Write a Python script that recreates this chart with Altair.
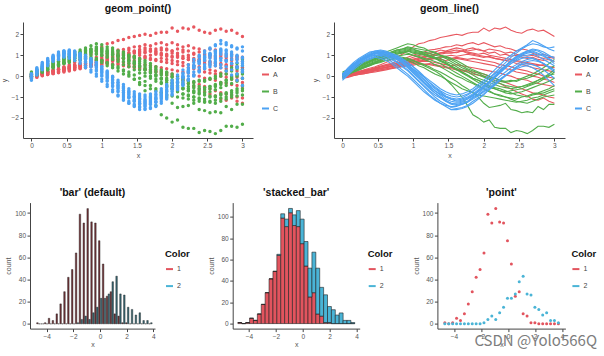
import altair as alt
import pandas as pd

FONT = "Liberation Sans"

# ---------------- top panels data ----------------
X = [0.0, 0.077, 0.154, 0.231, 0.308, 0.385, 0.462, 0.538, 0.615, 0.692,
     0.769, 0.846, 0.923, 1.0, 1.077, 1.154, 1.231, 1.308, 1.385, 1.462,
     1.538, 1.615, 1.692, 1.769, 1.846, 1.923, 2.0, 2.077, 2.154, 2.231,
     2.308, 2.385, 2.462, 2.538, 2.615, 2.692, 2.769, 2.846, 2.923, 3.0]

A_LINES = [
    [0.0, 0.08, 0.15, 0.22, 0.3, 0.38, 0.45, 0.55, 0.65, 0.78, 0.9, 1.05, 1.2, 1.4, 1.55, 1.6, 1.7, 1.75, 1.85, 1.9,
     1.95, 2.0, 1.95, 2.05, 2.1, 2.1, 2.3, 2.15, 2.3, 2.25, 2.35, 2.2, 2.1, 2.05, 2.2, 2.25, 2.15, 2.2, 2.05, 1.9],
    [0.0, 0.05, 0.12, 0.18, 0.25, 0.32, 0.4, 0.48, 0.55, 0.62, 0.7, 0.8, 0.9, 1.0, 1.08, 1.15, 1.25, 1.28, 1.33, 1.4,
     1.42, 1.5, 1.45, 1.55, 1.6, 1.5, 1.6, 1.5, 1.4, 1.45, 1.35, 1.3, 1.2, 1.3, 1.25, 1.1, 1.0, 1.05, 0.95, 0.9],
    [0.05, 0.08, 0.12, 0.2, 0.25, 0.32, 0.4, 0.45, 0.5, 0.58, 0.62, 0.72, 0.8, 0.9, 0.98, 1.05, 1.1, 1.15, 1.25, 1.2,
     1.28, 1.35, 1.3, 1.2, 1.25, 1.3, 1.2, 1.1, 1.15, 1.0, 1.05, 0.95, 1.0, 0.9, 0.85, 0.9, 0.8, 0.75, 0.8, 0.7],
    [-0.05, 0.0, 0.08, 0.12, 0.2, 0.25, 0.3, 0.38, 0.42, 0.48, 0.52, 0.6, 0.68, 0.75, 0.8, 0.88, 0.95, 1.0, 1.05, 1.1,
     1.1, 1.15, 1.2, 1.15, 1.1, 1.05, 1.1, 1.0, 0.95, 0.9, 0.85, 0.8, 0.75, 0.7, 0.65, 0.6, 0.55, 0.5, 0.45, 0.4],
    [0.0, 0.04, 0.08, 0.14, 0.18, 0.22, 0.28, 0.35, 0.4, 0.45, 0.5, 0.55, 0.62, 0.7, 0.75, 0.8, 0.86, 0.84, 0.9, 0.95,
     1.0, 0.95, 1.0, 1.05, 1.0, 0.95, 0.9, 0.95, 0.85, 0.8, 0.75, 0.7, 0.6, 0.55, 0.5, 0.4, 0.35, 0.3, 0.25, 0.2],
    [0.1, 0.12, 0.16, 0.22, 0.25, 0.3, 0.35, 0.38, 0.42, 0.48, 0.52, 0.55, 0.62, 0.66, 0.72, 0.76, 0.8, 0.86, 0.92, 0.9,
     0.85, 0.9, 0.85, 0.8, 0.85, 0.8, 0.75, 0.7, 0.65, 0.55, 0.5, 0.45, 0.35, 0.3, 0.25, 0.15, 0.1, 0.0, -0.05, -0.1],
    [-0.1, -0.06, 0.02, 0.08, 0.12, 0.18, 0.25, 0.3, 0.35, 0.4, 0.45, 0.5, 0.55, 0.6, 0.66, 0.72, 0.78, 0.84, 0.8, 0.75,
     0.8, 0.85, 0.8, 0.75, 0.7, 0.65, 0.6, 0.55, 0.5, 0.4, 0.35, 0.3, 0.2, 0.15, 0.1, 0.0, -0.05, -0.15, -0.2, -0.3],
    [0.0, 0.07, 0.12, 0.18, 0.25, 0.3, 0.36, 0.44, 0.5, 0.55, 0.6, 0.66, 0.72, 0.78, 0.84, 0.92, 0.98, 1.05, 1.1, 1.15,
     1.2, 1.25, 1.2, 1.3, 1.35, 1.25, 1.2, 1.3, 1.25, 1.2, 1.1, 1.15, 1.05, 1.0, 0.95, 1.0, 0.9, 0.85, 0.9, 0.85],
    [0.05, 0.07, 0.1, 0.16, 0.22, 0.26, 0.32, 0.38, 0.44, 0.5, 0.55, 0.6, 0.66, 0.7, 0.68, 0.72, 0.7, 0.65, 0.6, 0.55,
     0.5, 0.55, 0.5, 0.45, 0.4, 0.35, 0.3, 0.25, 0.2, 0.15, 0.05, 0.0, -0.1, -0.15, -0.2, -0.3, -0.35, -0.4, -0.45, -0.5],
    [-0.05, -0.02, 0.03, 0.08, 0.12, 0.16, 0.2, 0.25, 0.3, 0.35, 0.4, 0.45, 0.5, 0.52, 0.58, 0.55, 0.6, 0.55, 0.5, 0.45,
     0.4, 0.35, 0.3, 0.25, 0.2, 0.15, 0.1, 0.0, -0.1, -0.2, -0.3, -0.4, -0.5, -0.6, -0.7, -0.8, -0.85, -0.9, -1.0, -1.05],
    [0.0, 0.02, 0.06, 0.1, 0.15, 0.2, 0.26, 0.3, 0.34, 0.38, 0.42, 0.48, 0.52, 0.58, 0.6, 0.58, 0.55, 0.5, 0.45, 0.4,
     0.35, 0.3, 0.25, 0.2, 0.1, 0.05, 0.0, -0.1, -0.2, -0.35, -0.5, -0.6, -0.75, -0.85, -0.95, -1.1, -1.15, -1.05, -1.2, -1.3],
    [0.08, 0.12, 0.16, 0.22, 0.28, 0.32, 0.38, 0.44, 0.5, 0.56, 0.62, 0.68, 0.75, 0.82, 0.88, 0.95, 1.0, 1.06, 1.12, 1.18,
     1.15, 1.12, 1.2, 1.1, 1.05, 1.0, 0.95, 0.9, 0.85, 0.8, 0.75, 0.8, 0.7, 0.65, 0.6, 0.55, 0.5, 0.55, 0.45, 0.4],
]

B_LINES = [
    [0.0, 0.15, 0.3, 0.4, 0.5, 0.6, 0.7, 0.78, 0.85, 0.9, 0.95, 0.9, 0.85, 0.75, 0.62, 0.5, 0.38, 0.25, 0.08, -0.15,
     -0.4, -0.7, -1.0, -1.4, -1.85, -2.0, -2.2, -2.1, -2.45, -2.5, -2.5, -2.7, -2.6, -2.65, -2.75, -2.6, -2.4, -2.4, -2.45, -2.3],
    [0.05, 0.15, 0.25, 0.35, 0.45, 0.55, 0.62, 0.7, 0.75, 0.8, 0.85, 0.85, 0.8, 0.75, 0.65, 0.55, 0.45, 0.3, 0.2, 0.05,
     -0.1, -0.25, -0.45, -0.6, -0.8, -1.0, -1.3, -1.5, -1.45, -1.4, -1.3, -1.6, -1.65, -1.75, -1.7, -1.75, -1.45, -1.6, -1.35, -1.35],
    [0.1, 0.25, 0.4, 0.55, 0.7, 0.8, 0.9, 1.05, 1.15, 1.25, 1.35, 1.45, 1.55, 1.5, 1.4, 1.35, 1.2, 1.15, 1.0, 0.9,
     0.8, 0.65, 0.5, 0.35, 0.25, 0.15, 0.0, -0.1, -0.2, -0.25, -0.3, -0.25, -0.2, -0.1, 0.0, 0.1, 0.25, 0.4, 0.6, 0.8],
    [0.0, 0.2, 0.35, 0.5, 0.6, 0.7, 0.85, 0.95, 1.05, 1.15, 1.25, 1.3, 1.35, 1.3, 1.2, 1.1, 1.0, 0.9, 0.75, 0.6,
     0.45, 0.3, 0.15, 0.0, -0.15, -0.3, -0.45, -0.55, -0.6, -0.7, -0.75, -0.7, -0.65, -0.6, -0.5, -0.4, -0.3, -0.15, 0.0, 0.2],
    [-0.1, 0.05, 0.2, 0.3, 0.4, 0.5, 0.6, 0.7, 0.85, 0.95, 1.05, 1.1, 1.2, 1.15, 1.1, 1.05, 0.95, 0.85, 0.75, 0.65,
     0.5, 0.35, 0.2, 0.05, -0.1, -0.2, -0.35, -0.5, -0.6, -0.7, -0.8, -0.85, -0.8, -0.75, -0.65, -0.55, -0.45, -0.35, -0.25, -0.1],
    [0.05, 0.2, 0.3, 0.45, 0.55, 0.65, 0.75, 0.85, 0.95, 1.0, 1.1, 1.15, 1.1, 1.0, 0.95, 0.85, 0.8, 0.7, 0.6, 0.45,
     0.3, 0.15, 0.0, -0.15, -0.3, -0.45, -0.6, -0.7, -0.85, -0.95, -1.0, -1.05, -1.1, -1.0, -0.95, -0.85, -0.8, -0.7, -0.6, -0.45],
    [0.15, 0.25, 0.35, 0.5, 0.6, 0.7, 0.8, 0.9, 1.0, 1.1, 1.2, 1.25, 1.3, 1.25, 1.2, 1.15, 1.1, 1.0, 0.95, 0.85,
     0.7, 0.55, 0.4, 0.3, 0.15, 0.05, -0.05, -0.15, -0.3, -0.35, -0.45, -0.5, -0.55, -0.5, -0.45, -0.35, -0.2, -0.1, 0.05, 0.1],
    [0.0, 0.1, 0.25, 0.35, 0.45, 0.55, 0.65, 0.75, 0.85, 0.9, 0.95, 1.0, 1.05, 1.0, 0.9, 0.8, 0.7, 0.55, 0.45, 0.3,
     0.15, 0.0, -0.1, -0.25, -0.35, -0.5, -0.6, -0.75, -0.85, -0.9, -1.0, -1.1, -1.2, -1.25, -1.3, -1.2, -1.1, -1.0, -0.95, -0.9],
    [0.1, 0.2, 0.35, 0.45, 0.55, 0.7, 0.8, 0.9, 1.0, 1.1, 1.15, 1.2, 1.25, 1.2, 1.15, 1.05, 1.0, 0.9, 0.85, 0.7,
     0.6, 0.45, 0.3, 0.2, 0.05, -0.1, -0.2, -0.3, -0.4, -0.5, -0.55, -0.6, -0.55, -0.5, -0.4, -0.3, -0.2, -0.05, 0.1, 0.3],
    [-0.05, 0.1, 0.2, 0.3, 0.45, 0.55, 0.65, 0.8, 0.9, 1.0, 1.05, 1.15, 1.2, 1.1, 1.05, 1.0, 0.9, 0.85, 0.7, 0.6,
     0.45, 0.3, 0.2, 0.05, -0.1, -0.2, -0.3, -0.45, -0.55, -0.6, -0.7, -0.8, -0.9, -0.95, -1.0, -0.9, -0.85, -0.8, -0.7, -0.6],
    [0.2, 0.3, 0.45, 0.55, 0.65, 0.75, 0.85, 0.95, 1.05, 1.15, 1.25, 1.3, 1.4, 1.35, 1.3, 1.25, 1.2, 1.1, 1.0, 0.95,
     0.85, 0.75, 0.6, 0.45, 0.3, 0.2, 0.1, 0.0, -0.1, -0.2, -0.25, -0.2, -0.25, -0.15, -0.1, 0.0, 0.1, 0.25, 0.35, 0.5],
    [0.0, 0.1, 0.2, 0.3, 0.4, 0.5, 0.6, 0.65, 0.75, 0.8, 0.85, 0.8, 0.75, 0.65, 0.5, 0.4, 0.25, 0.1, 0.0, -0.15,
     -0.3, -0.45, -0.6, -0.7, -0.8, -0.9, -0.95, -1.0, -1.05, -1.1, -1.15, -1.2, -1.25, -1.2, -1.15, -1.05, -1.0, -0.9, -0.8, -0.7],
]

C_LINES = [
    [-0.1, 0.2, 0.45, 0.7, 0.85, 1.0, 1.1, 1.15, 1.1, 1.0, 0.9, 0.75, 0.55, 0.3, 0.05, -0.2, -0.45, -0.7, -0.9, -1.1,
     -1.2, -1.25, -1.2, -1.1, -0.9, -0.75, -0.5, -0.3, -0.05, 0.2, 0.45, 0.7, 0.9, 1.05, 1.15, 1.2, 1.1, 1.0, 0.85, 0.7],
    [0.0, 0.3, 0.55, 0.8, 0.95, 1.1, 1.2, 1.25, 1.2, 1.1, 1.0, 0.85, 0.65, 0.45, 0.2, -0.05, -0.3, -0.55, -0.75, -0.95,
     -1.05, -1.1, -1.05, -0.9, -0.75, -0.55, -0.35, -0.1, 0.15, 0.4, 0.65, 0.9, 1.1, 1.3, 1.45, 1.55, 1.5, 1.4, 1.35, 1.4],
    [0.1, 0.35, 0.6, 0.75, 0.9, 1.05, 1.1, 1.05, 0.95, 0.8, 0.65, 0.45, 0.25, 0.0, -0.25, -0.5, -0.75, -1.0, -1.2, -1.35,
     -1.5, -1.55, -1.5, -1.4, -1.2, -1.05, -0.85, -0.6, -0.4, -0.15, 0.05, 0.25, 0.45, 0.6, 0.7, 0.75, 0.7, 0.6, 0.45, 0.3],
    [-0.15, 0.1, 0.35, 0.6, 0.8, 0.95, 1.05, 1.1, 1.05, 0.95, 0.8, 0.6, 0.4, 0.15, -0.1, -0.35, -0.6, -0.8, -1.0, -1.15,
     -1.3, -1.35, -1.3, -1.2, -1.0, -0.85, -0.6, -0.35, -0.1, 0.15, 0.4, 0.6, 0.8, 0.95, 1.0, 1.05, 0.95, 0.8, 0.65, 0.5],
    [0.05, 0.25, 0.5, 0.7, 0.85, 0.95, 1.0, 0.95, 0.85, 0.7, 0.5, 0.3, 0.1, -0.15, -0.4, -0.65, -0.9, -1.1, -1.3, -1.45,
     -1.6, -1.6, -1.55, -1.45, -1.3, -1.1, -0.9, -0.65, -0.45, -0.2, 0.0, 0.2, 0.35, 0.45, 0.5, 0.4, 0.25, 0.05, -0.2, -0.45],
    [0.0, 0.2, 0.4, 0.6, 0.75, 0.85, 0.95, 1.0, 0.95, 0.9, 0.8, 0.7, 0.55, 0.35, 0.15, -0.05, -0.3, -0.5, -0.7, -0.85,
     -0.95, -1.0, -0.95, -0.85, -0.7, -0.5, -0.3, -0.1, 0.1, 0.3, 0.5, 0.7, 0.9, 1.05, 1.2, 1.3, 1.25, 1.15, 1.0, 0.85],
    [-0.2, 0.05, 0.3, 0.5, 0.7, 0.8, 0.9, 0.85, 0.75, 0.6, 0.4, 0.2, 0.0, -0.25, -0.5, -0.75, -0.95, -1.15, -1.3, -1.4,
     -1.45, -1.45, -1.35, -1.25, -1.1, -0.95, -0.75, -0.55, -0.35, -0.15, 0.05, 0.25, 0.4, 0.55, 0.6, 0.55, 0.45, 0.3, 0.1, -0.1],
    [0.1, 0.4, 0.65, 0.85, 1.0, 1.15, 1.2, 1.2, 1.15, 1.05, 0.95, 0.8, 0.65, 0.45, 0.25, 0.0, -0.2, -0.4, -0.6, -0.75,
     -0.85, -0.9, -0.85, -0.75, -0.6, -0.4, -0.2, 0.05, 0.3, 0.55, 0.8, 1.0, 1.2, 1.35, 1.5, 1.7, 1.6, 1.45, 1.3, 1.2],
    [-0.05, 0.15, 0.4, 0.6, 0.8, 0.9, 1.0, 1.05, 1.0, 0.85, 0.7, 0.5, 0.3, 0.05, -0.2, -0.45, -0.7, -0.9, -1.05, -1.2,
     -1.3, -1.3, -1.25, -1.1, -0.95, -0.75, -0.55, -0.3, -0.05, 0.2, 0.4, 0.6, 0.75, 0.85, 0.9, 0.85, 0.75, 0.6, 0.45, 0.3],
    [0.05, 0.3, 0.5, 0.7, 0.9, 1.0, 1.1, 1.1, 1.05, 0.95, 0.85, 0.7, 0.55, 0.35, 0.1, -0.15, -0.4, -0.6, -0.8, -1.0,
     -1.1, -1.15, -1.1, -1.0, -0.85, -0.65, -0.45, -0.25, 0.0, 0.25, 0.5, 0.75, 0.95, 1.1, 1.2, 1.25, 1.2, 1.05, 0.95, 0.9],
    [0.0, 0.2, 0.45, 0.65, 0.85, 1.0, 1.15, 1.2, 1.15, 1.05, 0.9, 0.7, 0.5, 0.25, 0.0, -0.3, -0.55, -0.8, -1.0, -1.2,
     -1.35, -1.4, -1.35, -1.25, -1.05, -0.9, -0.7, -0.45, -0.25, 0.0, 0.2, 0.4, 0.55, 0.7, 0.8, 0.85, 0.75, 0.6, 0.4, 0.2],
    [0.1, 0.3, 0.55, 0.75, 0.9, 1.05, 1.15, 1.15, 1.1, 1.0, 0.85, 0.65, 0.45, 0.2, -0.05, -0.3, -0.5, -0.7, -0.85, -1.0,
     -1.1, -1.2, -1.15, -1.05, -0.9, -0.7, -0.5, -0.25, 0.0, 0.25, 0.5, 0.7, 0.85, 1.0, 1.1, 1.15, 1.05, 0.95, 0.8, 0.6],
]

GROUPS_ABC = ["A", "B", "C"]
COLORS_ABC = ["#e8575f", "#52ad4a", "#4ca2f3"]

# ---------------- bottom panels data ----------------
BIN_CENTERS = [-4.68, -4.39, -4.10, -3.81, -3.52, -3.23, -2.94, -2.65, -2.36, -2.07,
               -1.78, -1.49, -1.20, -0.91, -0.62, -0.33, -0.04, 0.25, 0.54, 0.83,
               1.12, 1.41, 1.70, 1.99, 2.28, 2.57, 2.86, 3.15, 3.44, 3.73]
COUNT_1 = [1, 0, 1, 5, 3, 9, 18, 29, 42, 49, 64, 99, 91, 104, 92, 91, 75, 54, 25, 29,
           9, 7, 1, 1, 0, 0, 0, 0, 0, 0]
COUNT_2 = [0, 0, 0, 0, 0, 0, 0, 0, 0, 0, 1, 4, 7, 4, 10, 15, 23, 23, 27, 38,
           43, 27, 26, 15, 13, 8, 10, 3, 3, 1]
GROUPS_12 = ["1", "2"]
COLORS_12 = ["#e2545e", "#4ab4d6"]
COLORS_12_DARK = ["#733338", "#386874"]

WATERMARK = "CSDN @Yolo566Q"

# ---------------- tables ----------------
rows = []
for g, lines in zip(GROUPS_ABC, [A_LINES, B_LINES, C_LINES]):
    for k, ys in enumerate(lines):
        assert len(ys) == len(X), (g, k, len(ys))
        for xv, yv in zip(X, ys):
            rows.append({"x": xv, "y": yv, "Color": g, "line": f"{g}{k}"})
top = pd.DataFrame(rows)

BIN_W = 0.29
DODGE = {"1": (-0.07, 0.045), "2": (0.07, 0.185)}
hrows = []
for g, counts in zip(GROUPS_12, [COUNT_1, COUNT_2]):
    for i, (c, n) in enumerate(zip(BIN_CENTERS, counts)):
        below = 0 if g == "1" else COUNT_1[i]
        hrows.append({
            "center": c, "count": n, "Color": g,
            "dx0": c + DODGE[g][0], "dx1": c + DODGE[g][1],
            "sx0": c - BIN_W / 2, "sx1": c + BIN_W / 2,
            "y0": below, "y1": below + n,
        })
hist = pd.DataFrame(hrows)
first_bin = hist[hist["center"] == BIN_CENTERS[0]]
first_top = top[top["x"] == 0.0]

# ---------------- helpers ----------------
def legend(lx, ly):
    return alt.Legend(title="Color", orient="none", legendX=lx, legendY=ly,
                      direction="vertical", symbolType="stroke",
                      symbolStrokeWidth=2, symbolSize=49)

def spacer(w, h):
    return alt.Chart(pd.DataFrame({"v": [0]})).mark_rect(opacity=0).encode(
        x=alt.value(0), x2=alt.value(w), y=alt.value(0), y2=alt.value(h)
    ).properties(width=w, height=h)

TOP_W1, TOP_W2, TOP_H = 230, 231, 116
BOT_W1, BOT_W2, BOT_W3, BOT_H = 125, 127, 128, 126

x_top = alt.X("x:Q", scale=alt.Scale(domain=[-0.12, 3.15], nice=False, zero=False),
              axis=alt.Axis(values=[0, 0.5, 1, 1.5, 2, 2.5, 3], format="~g", titlePadding=2),
              title="x")
y_top = alt.Y("y:Q", scale=alt.Scale(domain=[-2.96, 2.59], nice=False, zero=False),
              axis=alt.Axis(values=[-2, -1, 0, 1, 2], format="~g", titlePadding=4),
              title="y")

def top_legend_layer(lx):
    # one point per line: draws nothing, only carries the legend
    return alt.Chart(first_top).mark_line().encode(
        x=x_top, y=y_top,
        stroke=alt.Stroke("Color:N", scale=alt.Scale(domain=GROUPS_ABC, range=COLORS_ABC),
                          legend=legend(lx, 32)),
        detail="line:N")

# top-left: points
p1_pts = alt.Chart(top).mark_circle(size=12, opacity=1).encode(
    x=x_top, y=y_top, fill=alt.Fill("Color:N", scale=alt.Scale(range=COLORS_ABC), legend=None))
p1 = alt.layer(p1_pts, top_legend_layer(238)).properties(
    width=TOP_W1, height=TOP_H, title=alt.TitleParams("geom_point()", offset=8))

# top-right: lines
p2_lines = alt.Chart(top).mark_line(strokeWidth=1.1).encode(
    x=x_top, y=y_top,
    color=alt.Color("Color:N", scale=alt.Scale(range=COLORS_ABC), legend=None),
    detail="line:N")
p2 = alt.layer(p2_lines, top_legend_layer(240)).properties(
    width=TOP_W2, height=TOP_H, title=alt.TitleParams("geom_line()", offset=8))

def xb(field, dom):
    return alt.X(f"{field}:Q", scale=alt.Scale(domain=dom, nice=False, zero=False),
                 axis=alt.Axis(values=[-4, -2, 0, 2, 4], format="~g", titlePadding=1), title="x")

def yb(field, dom):
    return alt.Y(f"{field}:Q", scale=alt.Scale(domain=dom, nice=False, zero=False),
                 axis=alt.Axis(values=[0, 20, 40, 60, 80, 100], format="d", titlePadding=3),
                 title="count")

def leg_helper(dom_x, dom_y, lx):
    return alt.Chart(first_bin).mark_line().encode(
        x=xb("center", dom_x), y=yb("count", dom_y),
        stroke=alt.Stroke("Color:N", scale=alt.Scale(domain=GROUPS_12, range=COLORS_12),
                          legend=legend(lx, 46)))

# bottom-left: dodged bars
DX3, DY3 = [-5.25, 4.13], [-4.3, 109.4]
p3_bars = alt.Chart(hist).mark_bar(stroke="#1a1a1a", strokeWidth=0.4).encode(
    x=xb("dx0", DX3), x2="dx1:Q", y=yb("count", DY3), y2=alt.datum(0),
    fill=alt.Fill("Color:N", scale=alt.Scale(range=COLORS_12_DARK), legend=None))
p3 = alt.layer(p3_bars, leg_helper(DX3, DY3, 135)).properties(
    width=BOT_W1, height=BOT_H, title=alt.TitleParams("'bar' (default)", offset=4))

# bottom-middle: stacked bars
DX4, DY4 = [-5.21, 4.24], [-4.7, 113.5]
p4_bars = alt.Chart(hist).mark_bar(stroke="#222222", strokeWidth=0.6).encode(
    x=xb("sx0", DX4), x2="sx1:Q", y=yb("y0", DY4), y2="y1:Q",
    fill=alt.Fill("Color:N", scale=alt.Scale(range=COLORS_12), legend=None))
p4 = alt.layer(p4_bars, leg_helper(DX4, DY4, 135)).properties(
    width=BOT_W2, height=BOT_H, title=alt.TitleParams("'stacked_bar'", offset=4))

# bottom-right: points
DX5, DY5 = [-5.23, 4.25], [-4.3, 109.4]
p5_pts = alt.Chart(hist).mark_circle(size=9, opacity=1).encode(
    x=xb("center", DX5), y=yb("count", DY5),
    fill=alt.Fill("Color:N", scale=alt.Scale(range=COLORS_12), legend=None))
p5_mark = alt.Chart(pd.DataFrame({"t": [WATERMARK]})).mark_text(
    align="left", baseline="alphabetic", fontSize=15, font="Noto Sans CJK SC",
    color="#7d7d7d").encode(text="t:N", x=alt.value(37), y=alt.value(143))
p5 = alt.layer(p5_pts, leg_helper(DX5, DY5, 134), p5_mark).properties(
    width=BOT_W3, height=BOT_H, title=alt.TitleParams("'point'", offset=4))

indep = dict(x="independent", y="independent", color="independent",
             fill="independent", stroke="independent")

top_row = alt.hconcat(p1, p2, spacing=81, bounds="flush").resolve_scale(**indep)
bottom_inner = alt.hconcat(p3, p4, p5, spacing=77.7, bounds="flush").resolve_scale(**indep)
bottom_row = alt.hconcat(spacer(7, BOT_H), bottom_inner, spacing=0, bounds="flush").resolve_scale(**indep)

chart = alt.vconcat(
    top_row, bottom_row, spacing=TOP_H + 64.6, bounds="flush",
).resolve_scale(**indep).properties(
    padding={"left": 0, "top": 3, "right": 0, "bottom": 0}
).configure_view(stroke=None).configure_axis(
    grid=False, domainColor="#444444", tickColor="#444444", tickSize=3,
    labelFont=FONT, labelFontSize=6.5, labelColor="#555555", labelPadding=1.5,
    labelFlush=False, titleFont=FONT, titleFontSize=7, titleColor="#555555",
    titleFontWeight="normal",
).configure_legend(
    titleFont=FONT, titleFontSize=9.5, titleFontWeight="bold", titleColor="#111111",
    labelFont=FONT, labelFontSize=7, labelColor="#444444", titlePadding=6.5,
    rowPadding=8, labelOffset=3, padding=0,
).configure_title(
    font=FONT, fontSize=10.5, fontWeight="bold", color="#111111", anchor="middle",
)

chart.save("out.html", embed_options={"renderer": "svg", "actions": False})
